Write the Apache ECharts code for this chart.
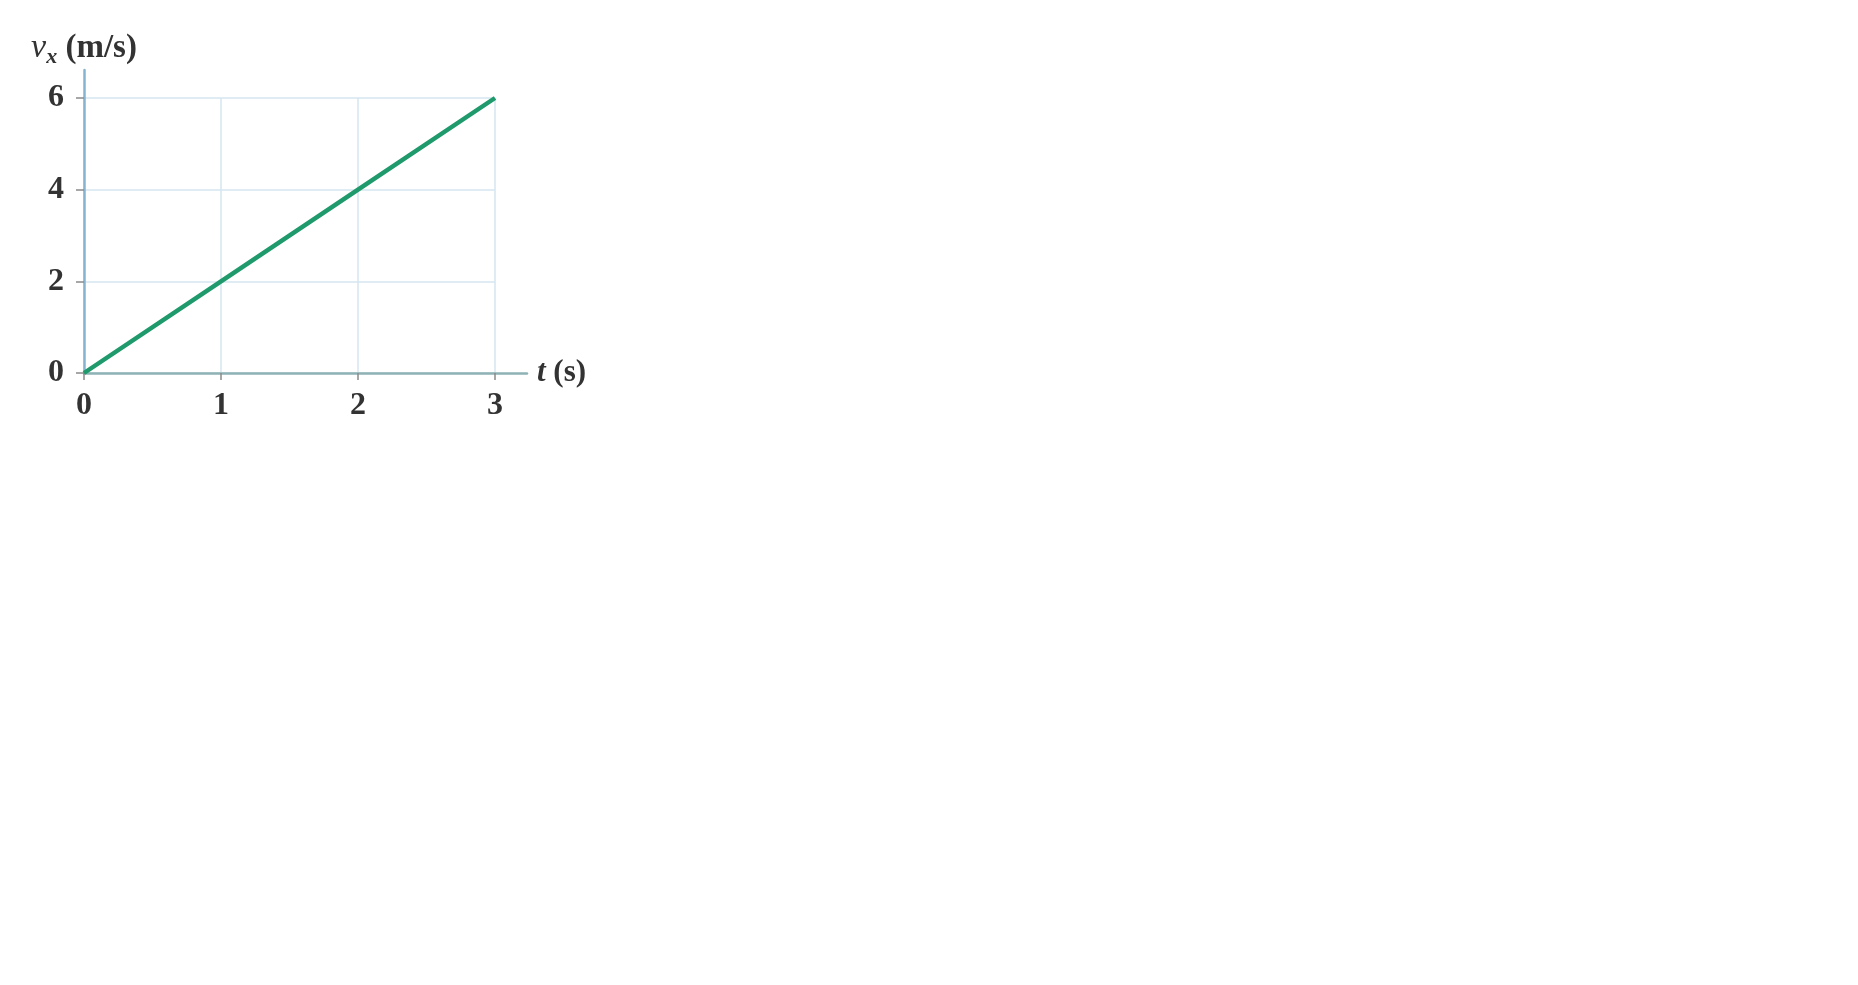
<!DOCTYPE html>
<html>
<head>
<meta charset="utf-8">
<script src="https://cdn.jsdelivr.net/npm/echarts@6/dist/echarts.min.js"></script>
<style>
html,body{margin:0;padding:0;background:#ffffff;}
#chart{width:1858px;height:985px;}
</style>
</head>
<body>
<div id="chart"></div>
<script>
// Data
var tValues = [0, 1, 2, 3];          // time (s)
var vxValues = [0, 2, 4, 6];         // velocity (m/s)
var xTickValues = [0, 1, 2, 3];
var yTickValues = [0, 2, 4, 6];
var xAxisTitle = '{t|t}{u| (s)}';
var yAxisTitle = '{v|v}{x|x}{u| (m/s)}';

var seriesData = tValues.map(function (t, i) { return [t, vxValues[i]]; });

var serif = '"Liberation Serif", "DejaVu Serif", serif';
var labelStyle = { fontFamily: serif, fontWeight: 'bold', fontSize: 32, color: '#333333' };

var chart = echarts.init(document.getElementById('chart'));
chart.setOption({
  animation: false,
  backgroundColor: '#ffffff',
  grid: [
    { left: 84, width: 411, top: 98, height: 275 },
    { left: 84, width: 443, top: 70, height: 303 }
  ],
  xAxis: [
    {
      gridIndex: 0, type: 'value', min: xTickValues[0], max: xTickValues[xTickValues.length - 1], interval: 1,
      axisLine: { show: false },
      axisTick: { show: true, length: 7, inside: false, lineStyle: { color: '#8a8a8a', width: 1.5 } },
      axisLabel: Object.assign({ margin: 17 }, labelStyle),
      splitLine: { show: true, lineStyle: { color: '#d6e6ef', width: 1.5 } }
    },
    {
      gridIndex: 1, type: 'value', min: 0, max: 1,
      axisLine: { show: true, onZero: false, lineStyle: { color: '#8fb3b5', width: 2.5 } },
      axisTick: { show: false }, axisLabel: { show: false }, splitLine: { show: false },
      name: xAxisTitle, nameLocation: 'end', nameGap: 10,
      nameTextStyle: {
        fontFamily: serif, fontSize: 31, color: '#333333',
        rich: {
          t: { fontFamily: serif, fontStyle: 'italic', fontWeight: 'bold', fontSize: 31, color: '#333333' },
          u: { fontFamily: serif, fontWeight: 'bold', fontSize: 31, color: '#333333' }
        }
      }
    }
  ],
  yAxis: [
    {
      gridIndex: 0, type: 'value', min: yTickValues[0], max: yTickValues[yTickValues.length - 1], interval: 2,
      axisLine: { show: false },
      axisTick: { show: true, length: 8, lineStyle: { color: '#8a8a8a', width: 1.5 } },
      axisLabel: Object.assign({ margin: 20 }, labelStyle),
      splitLine: { show: true, lineStyle: { color: '#d6e6ef', width: 1.5 } }
    },
    {
      gridIndex: 1, type: 'value', min: 0, max: 1,
      axisLine: { show: true, onZero: false, lineStyle: { color: '#86b4d0', width: 2.5 } },
      axisTick: { show: false }, axisLabel: { show: false }, splitLine: { show: false },
      name: yAxisTitle, nameLocation: 'end', nameGap: 4,
      nameTextStyle: {
        fontFamily: serif, fontSize: 33, color: '#333333',
        rich: {
          v: { fontFamily: serif, fontStyle: 'italic', fontSize: 34, lineHeight: 36, color: '#333333' },
          x: { fontFamily: serif, fontStyle: 'italic', fontWeight: 'bold', fontSize: 22, lineHeight: 22, padding: [18, 0, 0, 0], color: '#333333' },
          u: { fontFamily: serif, fontWeight: 'bold', fontSize: 33, lineHeight: 36, color: '#333333' }
        }
      }
    }
  ],
  series: [
    {
      type: 'line',
      xAxisIndex: 0, yAxisIndex: 0,
      data: seriesData,
      showSymbol: false,
      lineStyle: { color: '#1f9a6c', width: 4.5 },
      z: 5
    }
  ]
});
</script>
</body>
</html>
